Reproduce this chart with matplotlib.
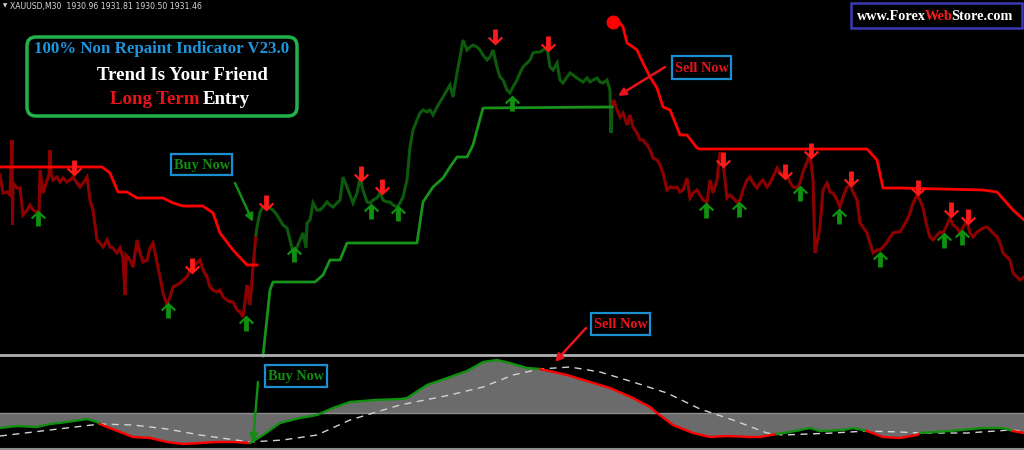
import numpy as np
import matplotlib
matplotlib.use("Agg")
import matplotlib.pyplot as plt
from matplotlib.patches import FancyBboxPatch, Rectangle

# ---------------- data (bar index / level) ----------------
symbol_header = "XAUUSD,M30  1930.96 1931.81 1930.50 1931.46"

price_x = [0, 3, 7, 10, 12, 12.5, 13, 17, 20, 23, 27, 30, 33, 37, 39, 40, 43, 47, 49, 50, 51, 53, 57, 60, 63, 67,
           70, 73, 77, 80, 83, 87, 90, 93, 97, 100, 103, 107, 110, 113, 117, 120, 123, 125, 126, 130, 133, 137,
           140, 143, 147, 150, 153, 157, 160, 163, 167, 170, 173, 177, 180, 183, 187, 190, 193, 197, 200, 203,
           207, 210, 213, 217, 220, 223, 227, 230, 233, 237, 240, 243, 247, 250, 253, 256,
           257, 260, 263, 267, 270, 273, 277, 280, 283, 287, 290, 293, 297, 300, 303, 306, 307, 310, 313, 317,
           320, 323, 327, 330, 333, 337, 340, 343, 347, 350, 353, 357, 360, 363, 367, 370, 373, 377, 380, 383,
           387, 390, 393, 397, 400, 403, 407, 410, 413, 417, 420, 423, 427, 430, 433, 437, 440, 443, 447, 450,
           453, 457, 460, 463, 467, 470, 473, 477, 480, 483, 487, 490, 493, 497, 500, 503, 507, 510, 513, 517,
           520, 523, 527, 530, 533, 537, 540, 543, 547, 550, 553, 557, 560, 563, 567, 570, 573, 577, 580, 583,
           587, 590, 593, 597, 600, 603, 607, 610, 611, 612,
           614, 617, 620, 623, 627, 630, 633, 637, 640, 643, 647, 650, 653, 657, 660, 663, 667, 670, 673, 677,
           680, 683, 687, 690, 693, 697, 700, 703, 707, 710, 713, 717, 720, 723, 727, 730, 733, 737, 740, 743,
           747, 750, 753, 757, 760, 763, 767, 770, 773, 777, 780, 783, 787, 790, 793, 797, 800, 803, 807, 810,
           813, 815, 817, 820, 823, 827, 830, 833, 837, 840, 843, 847, 850, 853, 857, 860, 863, 867, 870, 873,
           877, 880, 883, 887, 890, 893, 897, 900, 903, 907, 910, 913, 917, 920, 923, 927, 930, 933, 937, 940,
           943, 947, 950, 953, 957, 960, 963, 967, 970, 973, 977, 980, 983, 987, 990, 993, 997, 1000, 1003,
           1007, 1010, 1013, 1017, 1020, 1024]
price_y = [175, 193, 192, 195, 140, 225, 183, 188, 188, 215, 210, 205, 210, 212, 213, 170, 193, 180, 175, 150, 173,
           180, 177, 182, 178, 182, 180, 177, 183, 187, 183, 177, 200, 210, 240, 243, 247, 240, 247, 248, 253, 248,
           258, 295, 255, 260, 267, 240, 253, 262, 260, 248, 243, 263, 277, 293, 305, 297, 287, 285, 283, 280, 277,
           270, 267, 263, 260, 270, 277, 287, 290, 292, 290, 297, 300, 302, 302, 310, 312, 317, 285, 305, 267, 235,
           227, 212, 207, 208, 208, 210, 215, 220, 225, 228, 240, 252, 247, 240, 233, 248, 223, 220, 203, 210,
           210, 207, 202, 205, 207, 203, 200, 177, 187, 195, 203, 193, 178, 190, 202, 203, 200, 198, 193, 200,
           202, 202, 205, 207, 203, 197, 180, 147, 130, 120, 113, 110, 112, 110, 115, 107, 102, 97, 90, 85,
           97, 73, 57, 40, 50, 47, 45, 47, 50, 55, 60, 57, 50, 67, 77, 80, 90, 93, 87, 80,
           73, 67, 63, 60, 53, 52, 52, 50, 48, 67, 70, 63, 80, 83, 77, 73, 75, 78, 80, 82,
           78, 82, 80, 78, 82, 83, 80, 90, 133, 107,
           100, 110, 117, 113, 125, 115, 127, 133, 140, 140, 145, 150, 158, 160, 165, 173, 190, 187, 188, 187,
           192, 190, 178, 198, 193, 190, 195, 200, 202, 180, 193, 180, 152, 163, 198, 195, 198, 202, 200, 190,
           180, 177, 183, 188, 183, 180, 187, 183, 177, 168, 172, 175, 175, 182, 187, 188, 183, 172, 162, 153,
           180, 253, 243, 227, 190, 183, 192, 193, 200, 207, 197, 187, 185, 192, 200, 223, 227, 233, 243, 253,
           250, 250, 247, 242, 237, 233, 232, 232, 227, 220, 213, 203, 195, 200, 208, 227, 237, 240, 235, 232,
           233, 225, 218, 225, 228, 233, 227, 222, 233, 237, 232, 230, 228, 227, 230, 233, 237, 243, 253,
           257, 260, 273, 277, 280, 277]
price_trend_flips = [256, 612]            # bear -> bull -> bear

stop_bear1_x = [0, 102, 110, 118, 127, 137, 163, 173, 183, 203, 213, 220, 233, 247, 257]
stop_bear1_y = [167, 167, 173, 192, 192, 198, 198, 203, 206, 206, 213, 233, 250, 265, 265]

stop_bull_x = [263, 270, 273, 315, 323, 330, 340, 347, 417, 423, 433, 443, 450, 457, 467, 473, 477, 483, 612]
stop_bull_y = [356, 290, 282, 282, 275, 260, 260, 243, 243, 202, 187, 178, 167, 157, 157, 145, 130, 108, 107]

stop_bear2_x = [613, 620, 623, 627, 633, 637, 643, 650, 657, 663, 670, 677, 680, 687, 697, 700, 867, 877, 883,
                900, 983, 997, 1013, 1024]
stop_bear2_y = [22, 23, 27, 43, 47, 50, 63, 77, 88, 107, 110, 127, 135, 135, 148, 149, 149, 160, 188,
                188, 190, 192, 210, 220]

buy_arrow_x = [38, 168, 246, 294, 371, 398, 512, 706, 739, 800, 839, 880, 944, 962]
buy_arrow_y = [218, 310, 323, 254, 211, 213, 103, 210, 209, 193, 216, 259, 240, 237]
sell_arrow_x = [74, 192, 266, 361, 382, 495, 548, 723, 785, 811, 851, 918, 951, 968]
sell_arrow_y = [168, 266, 203, 174, 187, 37, 44, 160, 172, 151, 179, 188, 210, 217]

osc_x = [0, 17, 37, 50, 67, 87, 97, 100, 107, 133, 150, 167, 183, 200, 217, 233, 250, 263, 280, 300, 317, 333,
         350, 375, 400, 407, 427, 450, 467, 483, 497, 510, 527, 540, 567, 590, 610, 633, 650, 657, 673, 693,
         710, 727, 750, 760, 777, 790, 810, 820, 843, 853, 867, 883, 900, 917, 920, 950, 983, 1003, 1013, 1024]
osc_y = [428, 426, 427, 424, 422, 419, 422, 424, 427, 437, 438, 442, 444, 443, 442, 442, 443, 435, 423, 418, 415,
         408, 402, 400, 399, 398, 385, 377, 371, 362, 360, 363, 368, 369, 375, 382, 388, 398, 407, 413, 425, 433,
         437, 436, 437, 437, 434, 432, 428, 431, 430, 428, 431, 437, 438, 435, 433, 431, 428, 428, 431, 433]
osc_zero = 413
osc_flips = [100, 250, 540, 777, 867, 920, 1013]   # green/red alternation, starting green

sig_x = [0, 100, 133, 167, 200, 250, 283, 317, 350, 400, 450, 483, 513, 540, 570, 600, 633, 667, 700, 733, 767,
         783, 833, 867, 900, 920, 967, 1010, 1024]
sig_y = [436, 424, 425, 429, 435, 442, 440, 435, 420, 405, 395, 387, 375, 369, 367, 372, 382, 393, 409, 420, 433,
         435, 433, 431, 432, 433, 433, 430, 431]

# ---------------- figure ----------------
W, H = 1024, 450
fig = plt.figure(figsize=(10.24, 4.5), dpi=100, facecolor="black")

ax = fig.add_axes([0, 96 / H, 1, 354 / H])
ax.set_xlim(0, W)
ax.set_ylim(354, 0)
ax.axis("off")

ax2 = fig.add_axes([0, 0, 1, 96 / H])
ax2.set_xlim(0, W)
ax2.set_ylim(450, 354)
ax2.axis("off")

ov = fig.add_axes([0, 0, 1, 1])
ov.set_xlim(0, W)
ov.set_ylim(H, 0)
ov.axis("off")


def segments(xs, ys, flips):
    xs = np.asarray(xs, float)
    ys = np.asarray(ys, float)
    b = [-np.inf] + list(flips) + [np.inf]
    out = []
    for i in range(len(b) - 1):
        m = (xs >= b[i]) & (xs <= b[i + 1])
        out.append((xs[m], ys[m]))
    return out


# price
pcols = ["#8e0000", "#0d5a0d", "#8e0000"]
for (sx, sy), c in zip(segments(price_x, price_y, price_trend_flips), pcols):
    ax.plot(sx, sy, color=c, lw=2.2, solid_joinstyle="miter")

# trailing stops
ax.plot(stop_bear1_x, stop_bear1_y, color="#ff0000", lw=2)
ax.plot(stop_bear2_x, stop_bear2_y, color="#ff0000", lw=2)
ax.plot(stop_bear2_x[:1], stop_bear2_y[:1], "o", color="#ff0000", ms=9)
ax.plot(stop_bull_x, stop_bull_y, color="#17921a", lw=2, clip_on=False)

# arrows
up = [(0, 1), (0.95, 0.1), (0.75, -0.1), (0.3, 0.34), (0.3, -1), (-0.3, -1), (-0.3, 0.34),
      (-0.75, -0.1), (-0.95, 0.1), (0, 1)]
down = [(vx, -vy) for vx, vy in up]
ax.plot(buy_arrow_x, buy_arrow_y, ls="none", marker=up, ms=11.5, color="#0f900f", mew=0)
ax.plot(sell_arrow_x, sell_arrow_y, ls="none", marker=down, ms=11.5, color="#ff1a1a", mew=0)

# oscillator
ax2.fill_between(osc_x, osc_zero, osc_y, color="#6b6b6b", lw=0)
ax2.axhline(osc_zero, color="#8c8c8c", lw=1)
ax2.plot(sig_x, sig_y, color="#d2d2d2", lw=1, dashes=(5, 4))
ocols = ["#0f900f", "#ff0000"]
for i, (sx, sy) in enumerate(segments(osc_x, osc_y, osc_flips)):
    ax2.plot(sx, sy, color=ocols[i % 2], lw=1.7)

# separators
ov.plot([0, W], [355, 355], color="#b0b0b0", lw=2)
ov.plot([0, W], [448.5, 448.5], color="#8c8c8c", lw=1.5)

# header
ov.text(3, 6, "\u25bc", color="#d8d8d8", fontsize=4, va="center", ha="left")
ov.text(10, 6, symbol_header, color="#d8d8d8", fontsize=5.6, va="center", ha="left",
        family="DejaVu Sans")

serif = "Liberation Serif"


def right_edge(t):
    fig.canvas.draw()
    return t.get_window_extent().x1 / fig.dpi / 10.24 * W


# title box
ov.add_patch(FancyBboxPatch((27, 37), 270, 79, boxstyle="round,pad=0,rounding_size=9",
                            fill=False, edgecolor="#22b24c", lw=2.5))
ov.text(162, 49, "100% Non Repaint Indicator V23.0", color="#1e96dc", fontsize=12.2,
        family=serif, weight="bold", ha="center", va="center")
ov.text(182, 75, "Trend Is Your Friend", color="white", fontsize=13.6,
        family=serif, weight="bold", ha="center", va="center")
t1 = ov.text(110, 100, "Long Term", color="#e8141c", fontsize=13.6,
             family=serif, weight="bold", ha="left", va="center")
ov.text(right_edge(t1) + 3, 100, "Entry", color="white", fontsize=13.6,
        family=serif, weight="bold", ha="left", va="center")

# watermark
ov.add_patch(Rectangle((851, 3), 171, 25, fill=False, edgecolor="#3a3ab4", lw=1.8))
w1 = ov.text(857, 16, "www.Forex", color="white", fontsize=10.3, family=serif, weight="bold",
             ha="left", va="center")
w2 = ov.text(right_edge(w1) - 1.2, 16, "Web", color="#ff1a1a", fontsize=10.3, family=serif,
             weight="bold", ha="left", va="center")
ov.text(right_edge(w2) - 1.2, 16, "Store.com", color="white", fontsize=10.3, family=serif,
        weight="bold", ha="left", va="center")


def callout(x0, y0, w, h, label, tcolor, tail, tip):
    ov.add_patch(Rectangle((x0, y0), w, h, fill=False, edgecolor="#1a90d2", lw=1.6))
    ov.text(x0 + w / 2, y0 + h / 2 + 0.5, label, color=tcolor, fontsize=10.3, family=serif,
            weight="bold", ha="center", va="center")
    ov.annotate("", xy=tip, xytext=tail,
                arrowprops=dict(arrowstyle="-|>", color=tcolor, lw=1.8, mutation_scale=11,
                                shrinkA=0, shrinkB=0))


callout(171, 154, 61, 21, "Buy Now", "#128c12", (235, 183), (253, 222))
callout(672, 56, 59, 23, "Sell Now", "#e8141c", (665, 67), (618, 96))
callout(265, 365, 62, 22, "Buy Now", "#128c12", (258, 382), (253, 442))
callout(591, 313, 59, 22, "Sell Now", "#e8141c", (586, 328), (555, 362))

fig.savefig("out.png", dpi=100, facecolor="black")
